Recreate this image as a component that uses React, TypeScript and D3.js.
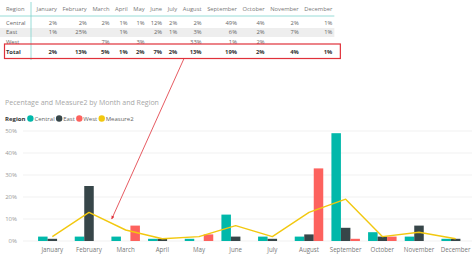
// @ts-nocheck
import React from 'react';
import * as d3 from 'd3';

const months = ['January', 'February', 'March', 'April', 'May', 'June', 'July', 'August', 'September', 'October', 'November', 'December'];
const regions = ['Central', 'East', 'West'];
const central = [2, 2, 2, 1, 1, 12, 2, 2, 49, 4, 2, 1];
const east = [1, 25, null, 1, null, 2, 1, 3, 6, 2, 7, 1];
const west = [null, null, 7, null, 3, null, null, 33, 1, 2, null, null];
const measure2 = [2, 13, 5, 1, 2, 7, 2, 13, 19, 2, 4, 1];
const yTicks = [0, 10, 20, 30, 40, 50];

const colors = { Central: '#01B8AA', East: '#374649', West: '#FD625E', Measure2: '#F2C80F' };
const font = "'Open Sans', 'DejaVu Sans', sans-serif";

function textWidth(txt, size, weight = 'normal') {
    const c = document.createElement('canvas').getContext('2d');
    c.font = `${weight} ${size}px 'Open Sans'`;
    return c.measureText(txt).width;
}

export default function App() {
    const W = 474;
    const H = 257;
    const series = { Central: central, East: east, West: west };

    // table
    const tSize = 5.8;
    const regionColW = 31;
    const pad = 5.6;
    let acc = regionColW;
    const colRight = months.map((m) => {
        acc += textWidth(m, tSize) + pad;
        return acc;
    });
    const tableRight = colRight[colRight.length - 1] + 2;
    const rowY = { header: 10.5, Central: 24.5, East: 34, West: 44, Total: 54 };
    const fmt = (v) => (v == null ? '' : `${v}%`);

    // chart
    const x = d3.scaleBand().domain(months).range([34, 474]).padding(0);
    const sub = d3.scaleBand().domain(regions).range([0, 28.5]);
    const y = d3.scaleLinear().domain([0, 50]).range([241, 131]);
    const cx = (m) => x(m) + x.bandwidth() / 2;

    const line = d3.line()
        .x((d, i) => cx(months[i]))
        .y((d) => y(d));

    const boxBottom = 58.5;
    const arrowEnd = [cx('February') + x.step() * 0.62, y(10)];
    const arrowStart = [184, boxBottom];

    // legend layout from text widths
    const lSize = 6;
    let lx = 5 + textWidth('Region', lSize, 'bold') + 5;
    const legendItems = ['Central', 'East', 'West', 'Measure2'].map((k) => {
        const item = { k, x: lx };
        lx += 4 + textWidth(k, lSize) + 4.5;
        return item;
    });

    return (
        <svg width={W} height={H} style={{ position: 'absolute', left: 0, top: 0, background: '#fff' }} fontFamily={font}>
            <defs>
                <marker id="arr" viewBox="0 0 10 10" refX="8" refY="5" markerWidth="5" markerHeight="5" orient="auto">
                    <path d="M0,1 L9,5 L0,9 z" fill="#e0313a" />
                </marker>
            </defs>

            {/* table */}
            <rect x={0} y={28} width={tableRight} height={9} fill="#eeeeee" />
            <line x1={0} x2={tableRight} y1={16} y2={16} stroke="#7fd3cd" strokeWidth={0.8} />
            <line x1={regionColW} x2={regionColW} y1={2} y2={60} stroke="#7fd3cd" strokeWidth={0.8} />
            <text x={6} y={rowY.header} fontSize={tSize} fill="#777">Region</text>
            {months.map((m, i) => (
                <text key={m} x={colRight[i]} y={rowY.header} fontSize={tSize} fill="#777" textAnchor="end">{m}</text>
            ))}
            {regions.map((r) => (
                <g key={r}>
                    <text x={6} y={rowY[r]} fontSize={tSize} fill="#666">{r}</text>
                    {series[r].map((v, i) => (
                        <text key={i} x={colRight[i]} y={rowY[r]} fontSize={tSize} fill="#666" textAnchor="end">{fmt(v)}</text>
                    ))}
                </g>
            ))}
            <text x={6} y={rowY.Total} fontSize={tSize} fill="#333" fontWeight="bold">Total</text>
            {measure2.map((v, i) => (
                <text key={i} x={colRight[i]} y={rowY.Total} fontSize={tSize} fill="#333" fontWeight="bold" textAnchor="end">{fmt(v)}</text>
            ))}
            <rect x={4.5} y={44} width={tableRight + 6 - 4.5} height={boxBottom - 44} fill="none" stroke="#e0313a" strokeWidth={1.2} />

            {/* title + legend */}
            <text x={5} y={105} fontSize={7} fill="#a6a6a6">Pecentage and Measure2 by Month and Region</text>
            <text x={5} y={120.5} fontSize={lSize} fill="#333" fontWeight="bold">Region</text>
            {legendItems.map((l) => (
                <g key={l.k}>
                    <circle cx={l.x} cy={118.5} r={3.2} fill={colors[l.k]} />
                    <text x={l.x + 4} y={120.5} fontSize={lSize} fill="#666">{l.k}</text>
                </g>
            ))}

            {/* grid + y labels */}
            {yTicks.map((t) => (
                <g key={t}>
                    <line x1={23} x2={472} y1={y(t)} y2={y(t)} stroke="#eeeeee" strokeWidth={0.8} />
                    <text x={17} y={y(t) + 2.2} fontSize={6} fill="#999" textAnchor="end">{t}%</text>
                </g>
            ))}

            {/* bars */}
            {months.map((m, i) => (
                <g key={m} transform={`translate(${cx(m) - 14.25},0)`}>
                    {regions.map((r) => {
                        const v = series[r][i];
                        if (v == null) return null;
                        return (
                            <rect key={r} x={sub(r)} y={y(v)} width={sub.bandwidth()} height={y(0) - y(v)} fill={colors[r]} />
                        );
                    })}
                </g>
            ))}

            <path d={line(measure2)} fill="none" stroke={colors.Measure2} strokeWidth={1.4} strokeLinejoin="round" />

            {/* x labels */}
            {months.map((m) => (
                <text key={m} x={cx(m)} y={252} fontSize={6.2} fill="#777" textAnchor="middle">{m}</text>
            ))}

            <line x1={arrowStart[0]} y1={arrowStart[1]} x2={arrowEnd[0]} y2={arrowEnd[1]} stroke="#e0313a" strokeWidth={0.8} markerEnd="url(#arr)" />
        </svg>
    );
}
